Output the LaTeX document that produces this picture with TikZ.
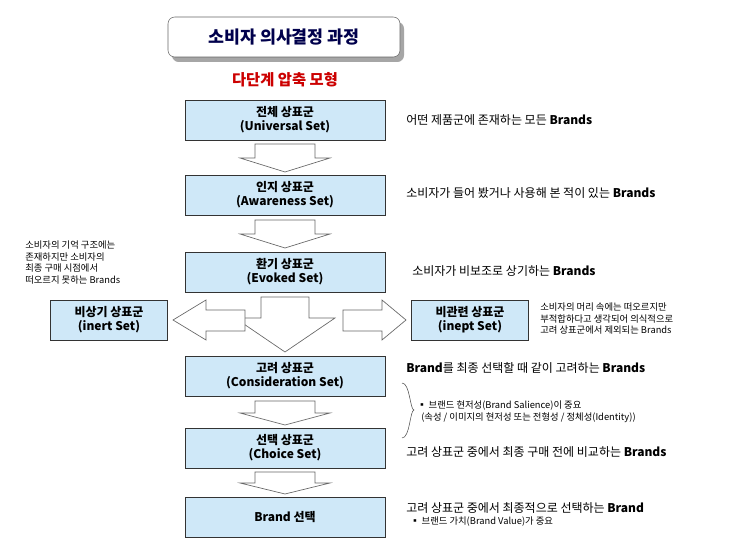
\documentclass[tikz,border=0pt]{standalone}
\usepackage{fontspec}
\setmainfont{Noto Sans CJK KR}
\begin{document}
\begin{tikzpicture}[x=0.75pt,y=-0.75pt,
 box/.style={draw=black!80,fill=boxblue,minimum width=150pt,minimum height=30pt,align=center,font=\fontsize{9}{10.5}\selectfont\bfseries,inner sep=1pt},
 sbox/.style={box,minimum width=88pt},
 desc/.style={anchor=west,font=\fontsize{9}{10.5}\selectfont,inner sep=0pt},
 small/.style={anchor=north west,align=left,font=\fontsize{7}{8.6}\selectfont,inner sep=0pt},
 harrow/.style={draw=black!60,fill=white,line width=0.5pt}]
\definecolor{boxblue}{HTML}{CFE8F8}
\useasboundingbox (0,0) rectangle (740,548);
\fill[white] (0,0) rectangle (740,548);
% title
\fill[black!35,rounded corners=5pt] (172,22) rectangle (404,62);
\node[draw=black!60,fill=white,rounded corners=5pt,minimum width=174pt,minimum height=30pt,font=\fontsize{13}{15}\selectfont\bfseries,text=blue!30!black] (title) at (284,37) {소비자 의사결정 과정};
\node[font=\fontsize{11.5}{13}\selectfont\bfseries,text=red!80!black] (sub) at (285,80) {다단계 압축 모형};
% boxes
\node[box] (b1) at (285,120) {전체 상표군\\(Universal Set)};
\node[box] (b2) at (285,195) {인지 상표군\\(Awareness Set)};
\node[box] (b3) at (285,272) {환기 상표군\\(Evoked Set)};
\node[box] (b4) at (285,376) {고려 상표군\\(Consideration Set)};
\node[box] (b5) at (285,448) {선택 상표군\\(Choice Set)};
\node[box] (b6) at (285,517) {Brand 선택};
\node[sbox] (in) at (109,320) {비상기 상표군\\(inert Set)};
\node[sbox] (ip) at (470,320) {비관련 상표군\\(inept Set)};
% down arrows
\newcommand{\darr}[6]{\draw[harrow] (#1-#4,#2) -- (#1+#4,#2) -- (#1+#4,#6) -- (#1+#5,#6) -- (#1,#3) -- (#1-#5,#6) -- (#1-#4,#6) -- cycle;}
\darr{285}{144}{172}{30}{45}{158}
\darr{285}{220}{248}{30}{45}{234}
\darr{285}{297}{352}{24}{50}{318}
\darr{285}{401}{425}{30}{45}{413}
\darr{285}{472}{494}{30}{45}{483}
% left arrow
\draw[harrow] (245,310) -- (245,331) -- (206,331) -- (206,340) -- (173,320) -- (206,300) -- (206,310) -- cycle;
% right arrow
\draw[harrow] (343,310) -- (343,331) -- (382,331) -- (382,340) -- (406,320) -- (382,300) -- (382,310) -- cycle;
% descriptions
\node[desc] (d1) at (406,120) {어떤 제품군에 존재하는 모든 \textbf{Brands}};
\node[desc] (d2) at (406,193) {소비자가 들어 봤거나 사용해 본 적이 있는 \textbf{Brands}};
\node[desc] (d3) at (412,271) {소비자가 비보조로 상기하는 \textbf{Brands}};
\node[desc] (d4) at (406,368) {\textbf{Brand}를 최종 선택할 때 같이 고려하는 \textbf{Brands}};
\node[desc] (d5) at (406,452) {고려 상표군 중에서 최종 구매 전에 비교하는 \textbf{Brands}};
\node[desc] (d6) at (406,508) {고려 상표군 중에서 최종적으로 선택하는 \textbf{Brand}};
\node[small] (d7) at (410,517) {▪ 브랜드 가치(Brand Value)가 중요};
\node[small] (d8) at (417,401) {▪ 브랜드 현저성(Brand Salience)이 중요\\\hspace*{3pt}(속성 / 이미지의 현저성 또는 전형성 / 정체성(Identity))};
\node[small] (l1) at (25,241) {소비자의 기억 구조에는\\존재하지만 소비자의\\최종 구매 시점에서\\떠오르지 못하는 Brands};
\node[small] (r1) at (540,303) {소비자의 머리 속에는 떠오르지만\\부적합하다고 생각되어 의식적으로\\고려 상표군에서 제외되는 Brands};
% brace
\coordinate (bt) at (402,383);
\coordinate (bb) at (402,438);
\draw[black!70] (bt) .. controls (410,383) and (410,410) .. (414,410) .. controls (410,410) and (410,438) .. (bb);
\end{tikzpicture}
\end{document}
